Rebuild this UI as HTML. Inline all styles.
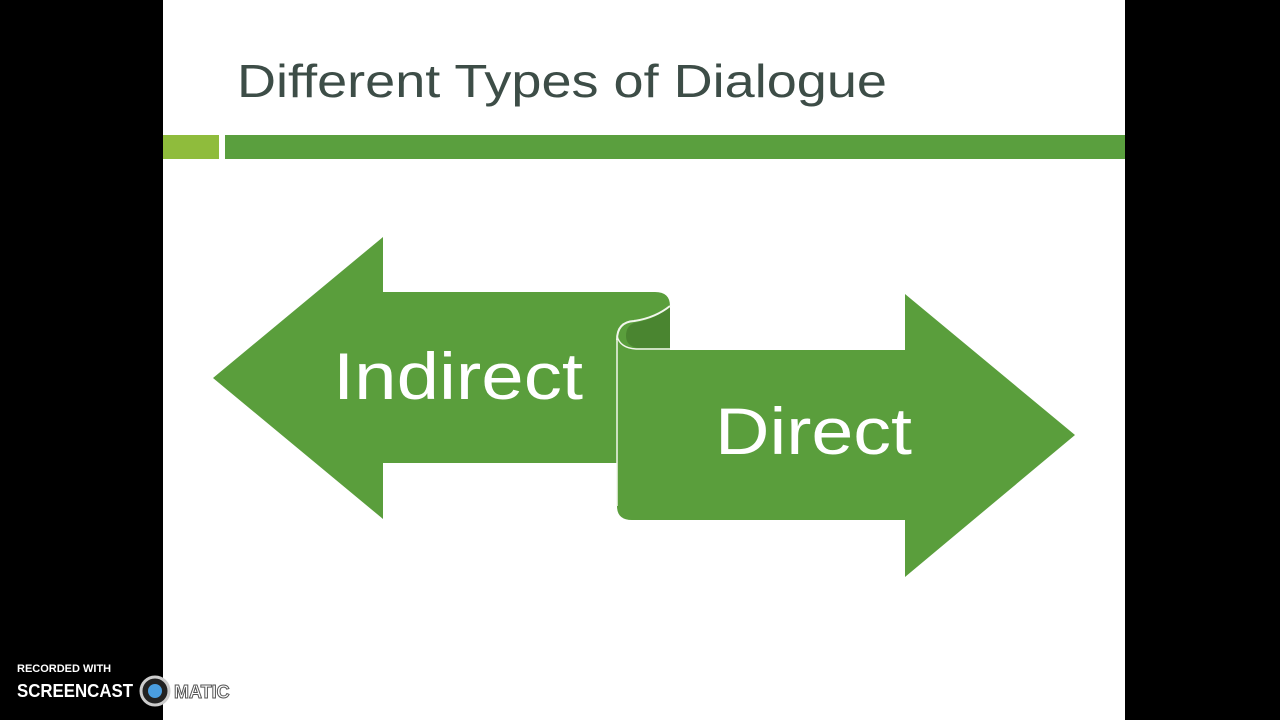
<!DOCTYPE html>
<html><head><style>
html,body{margin:0;padding:0;background:#000;}
body{width:1280px;height:720px;position:relative;overflow:hidden;font-family:"Liberation Sans",sans-serif;}
</style></head><body>
<svg width="1280" height="720" xmlns="http://www.w3.org/2000/svg" style="position:absolute;left:0;top:0">
<rect x="0" y="0" width="1280" height="720" fill="#000"/>
<rect x="163" y="0" width="962" height="720" fill="#fff"/>
<text x="237" y="97" font-family="Liberation Sans, sans-serif" font-size="46" fill="#3d4d47" textLength="650" lengthAdjust="spacingAndGlyphs">Different Types of Dialogue</text>
<rect x="163" y="135" width="56" height="24" fill="#8fbc3c"/>
<rect x="225" y="135" width="900" height="24" fill="#5a9f3e"/>
<!-- left arrow -->
<path d="M213,378 L383,237 L383,292 L655,292 Q670,292 670,306 L670,348 L617,348 L617,463 L383,463 L383,519 Z" fill="#5a9e3c"/>
<!-- right arrow -->
<path d="M617,340 Q617,322 634,321 Q655,318 670,306 L670,350 L905,350 L905,294 L1075,435 L905,577 L905,520 L632,520 Q617,520 617,506 Z" fill="#5a9e3c"/>
<!-- dark fold -->
<path d="M638,322 Q658,318 670,306 L670,348 L638,348 Q626,346 626,336 Q626,324 638,322 Z" fill="#4a8530"/>
<path d="M670,306 Q655,318 634,321 Q617,322 617,340" fill="none" stroke="#f2f6ec" stroke-width="2"/>
<path d="M617,336 Q620,348 636,349 L670,349" fill="none" stroke="#f2f6ec" stroke-width="1.5"/>
<line x1="617" y1="340" x2="617" y2="506" stroke="#f2f6ec" stroke-width="1.5"/>
<text x="333" y="399" font-family="Liberation Sans, sans-serif" font-size="66" fill="#fff" textLength="250" lengthAdjust="spacingAndGlyphs">Indirect</text>
<text x="715" y="454" font-family="Liberation Sans, sans-serif" font-size="66" fill="#fff" textLength="197" lengthAdjust="spacingAndGlyphs">Direct</text>
<!-- watermark -->
<text x="17" y="672" font-family="Liberation Sans, sans-serif" font-weight="bold" font-size="11" fill="#fff">RECORDED WITH</text>
<text x="17" y="697" font-family="Liberation Sans, sans-serif" font-weight="bold" font-size="18" fill="#fff" textLength="116" lengthAdjust="spacingAndGlyphs">SCREENCAST</text>
<circle cx="155" cy="691" r="14" fill="#222" stroke="#ccc" stroke-width="3"/>
<circle cx="155" cy="691" r="7" fill="#4a9ee0"/>
<text x="174" y="698" font-family="Liberation Sans, sans-serif" font-weight="bold" font-size="18" fill="#fff" stroke="#555" stroke-width="1">MATIC</text>
</svg>
</body></html>
